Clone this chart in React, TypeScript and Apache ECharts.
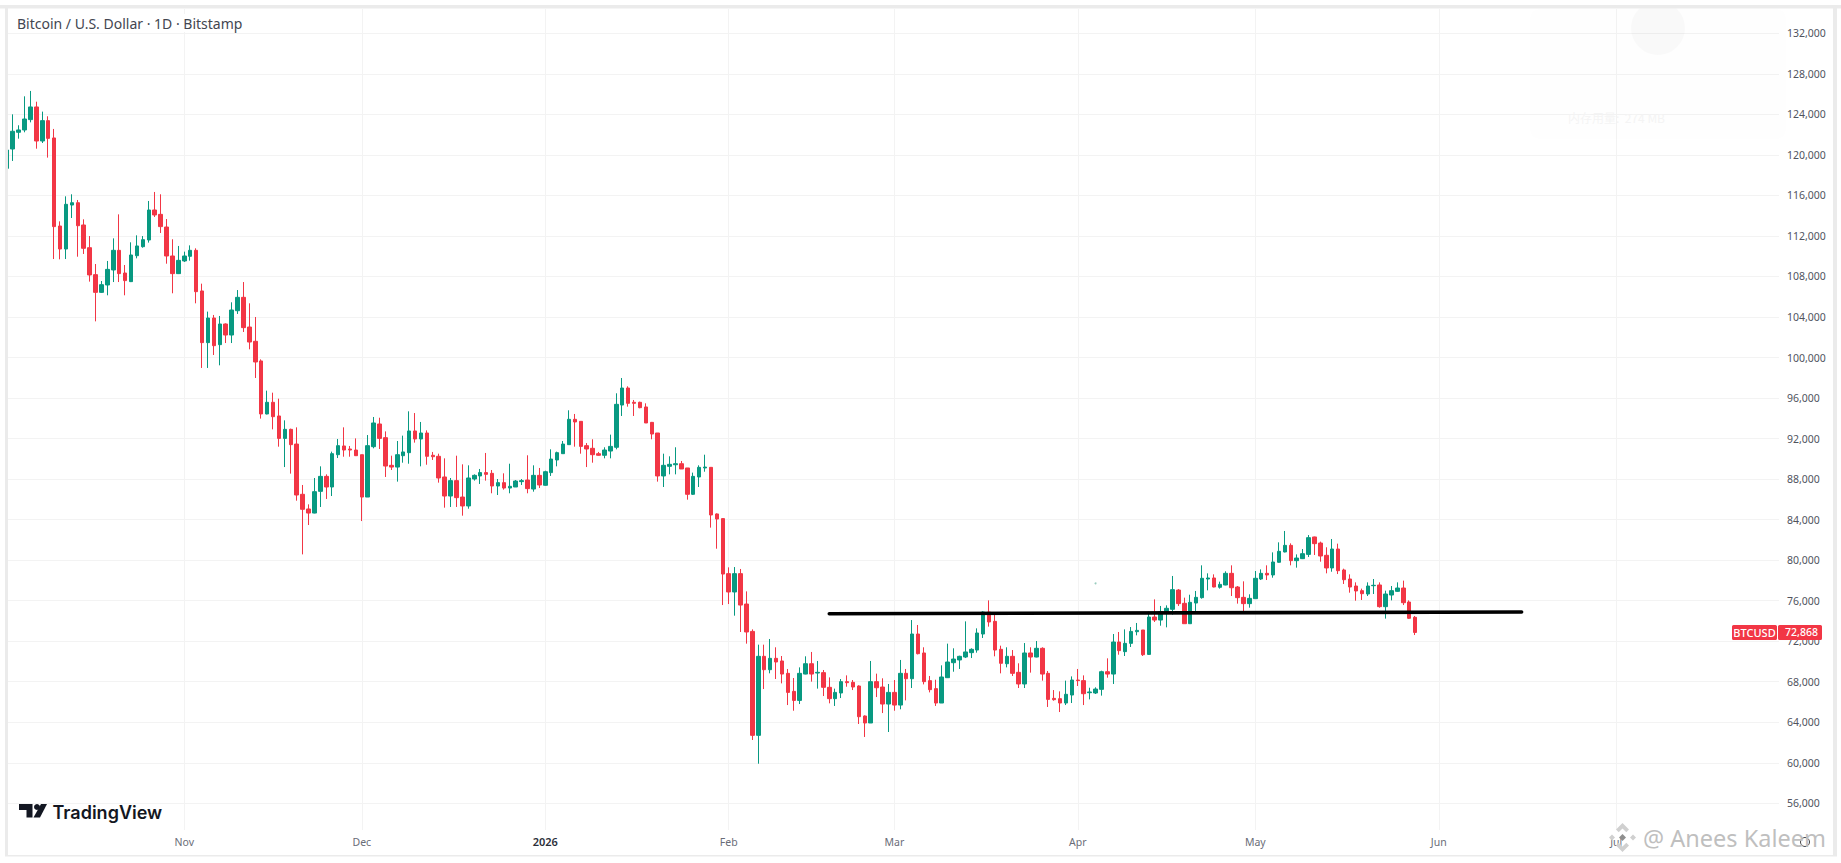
import React, { useEffect, useRef } from "react";
import * as echarts from "echarts";

// Rows are [open, high, low, close].
const octoberCandles = [
  [118670,120810,118610,120480],[120580,124000,119400,122330],[122230,122920,121600,122460],[122460,125780,122230,123540],
  [123480,126310,123210,124730],[124730,125250,120610,121370],[121370,124270,121170,123380],[123380,123810,119730,121630],
  [121670,122560,109720,112920],[112980,113440,109690,110710],[110710,115910,109720,115120],[115050,116110,113770,115280],
  [115280,115550,109950,113010],[113080,113640,110220,110780],[110840,111990,107490,108150],[108180,109230,103570,106430],
  [106430,107550,106370,107190],[107160,109530,106140,108700],[108640,111760,107450,110580],[110580,114130,107450,108280],
  [108340,109130,106140,107590],[107490,111370,107450,110120],[110050,112060,109790,111010],[110940,111990,110840,111630],
  [111600,115450,111340,114560],[114560,116340,113870,114070],[114130,116110,112290,112920],[112880,113670,109260,110020],
  [110020,111670,106340,108280],[108280,111010,108240,109590],
];
const novemberCandles = [
  [109530,110450,109430,110020],[109990,111070,109560,110580],[110580,110780,105350,106500],[106570,107290,98970,101470],
  [101470,104530,98970,103900],[103900,104200,100250,101170],[101270,104100,99230,103310],[103310,103370,101430,102220],
  [102220,105450,101430,104690],[104620,106660,104300,105940],[105940,107450,102520,102950],[103010,105350,100810,101530],
  [101600,104000,97980,99560],[99660,99820,93970,94430],[94430,96730,94390,95580],[95580,96530,92910,94160],
  [94230,95940,91200,92020],[92020,93800,89190,92910],[92910,92980,88540,91400],[91460,93110,85870,86430],
  [86500,87420,80570,85020],[85050,85510,83470,84650],[84650,88110,84620,86760],[86790,89260,85250,88270],
  [88270,88470,86040,87220],[87220,90710,86330,90510],[90410,91960,90080,91300],[91270,93110,90210,90870],
  [90970,91270,90210,90870],[90870,92020,90280,90310],
];
const decemberCandles = [
  [90410,90410,83860,86230],[86230,92350,86230,91300],[91200,94130,91040,93540],[93440,94060,90970,92020],
  [92090,92710,88210,89290],[89360,90310,88900,89190],[89190,91760,87750,90410],[90310,92290,89620,90680],
  [90610,94690,89520,92750],[92750,94520,91600,91960],[91960,93640,89260,92550],[92550,92810,89420,90250],
  [90350,90680,89890,90210],[90250,90510,87650,88110],[88210,90050,85180,86330],[86330,88110,85250,87850],
  [87850,90310,85250,86170],[86230,89460,84390,85350],[85350,89360,85080,88110],[88010,88470,87850,88370],
  [88310,89000,87520,88640],[88640,90580,87850,88470],[88570,88900,86600,87320],[87320,88010,86430,87650],
  [87650,88570,86960,87120],[87120,89520,86600,87290],[87220,87910,87220,87810],[87750,88010,87420,87850],
  [87910,90350,86600,87060],[87020,89360,86760,88370],[88370,89100,87120,87420],
];
const januaryCandles = [
  [87390,88830,87350,88730],[88640,90940,88310,89980],[89890,90710,89260,90610],[90510,91760,90510,91460],
  [91400,94790,91370,93900],[93900,94430,91200,93640],[93700,93700,90510,91230],[91300,91560,89190,90970],
  [91040,91930,89620,90410],[90510,90680,90310,90350],[90350,91140,90050,90870],[90770,92390,90050,91230],
  [91140,96470,90940,95380],[95310,97980,94230,96990],[96990,97160,95150,95480],[95580,95810,94230,95480],
  [95580,95640,94990,95050],[95120,95480,93540,93540],[93600,93640,91930,92450],[92550,92550,87750,88310],
  [88310,90510,87220,89360],[89260,90250,88470,89460],[89420,91140,88470,89520],[89520,89790,89000,89000],
  [89100,89100,85970,86500],[86500,88640,86430,88270],[88210,89360,87220,89160],[89100,90410,88730,89190],
  [89160,89160,83210,84460],[84560,84620,81130,84060],[84100,84130,75570,78630],
];
const februaryCandles = [
  [78670,79290,75670,76860],[76860,79320,74520,78670],[78670,79130,72910,75570],[75670,76920,71760,72910],
  [72970,73170,62250,62710],[62710,71660,59910,70510],[70510,71660,67280,69190],[69190,72220,68830,70310],
  [70310,71400,68270,69950],[70050,70540,67840,68760],[68830,69260,65700,66950],[67050,68370,65140,66160],
  [66160,69420,65800,68830],[68760,70510,68730,69780],[69780,70940,68010,68760],[68860,70050,67320,68930],
  [68900,69160,66590,67450],[67450,68430,65870,66330],[66330,67320,65610,66950],[66890,68270,66390,68010],
  [68010,68630,67510,67910],[67940,68170,67180,67480],[67580,67650,63830,64550],[64620,64680,62550,63930],
  [63930,70050,63930,68010],[68010,68800,66490,67410],[67480,68340,64910,65800],[65800,67780,63040,66950],
];
const marchCandles = [
  [66950,68170,65140,65700],[65700,70150,65280,68830],[68830,69260,66160,68300],[68300,74090,67380,72710],
  [72710,73600,70700,70770],[70840,71400,67740,68010],[68110,68570,66950,67220],[67320,68200,65610,65900],
  [65900,69620,65900,68470],[68400,71760,68370,69950],[69880,71300,68990,70240],[70150,70570,69260,70510],
  [70440,73960,70340,70940],[70870,71300,70340,71200],[71130,73270,70870,72810],[72710,74950,72320,74880],
  [74880,76030,73440,73900],[73960,74590,70510,71130],[71200,71560,68830,69820],[69780,71400,69420,70510],
  [70510,71130,68570,68830],[68930,69820,67380,67780],[67780,71820,67380,70840],[70840,71400,68900,70440],
  [70440,72020,70410,71300],[71300,71400,68110,68760],[68830,69060,65510,66260],[66360,67180,66130,66230],
  [66330,67050,65010,65900],[65900,68110,65700,66760],[66690,68530,65900,68170],
];
const aprilCandles = [
  [68170,69260,67580,68110],[68110,68630,65700,66820],[66920,67410,66260,66990],[66890,67450,66790,67280],
  [67250,69090,66630,68990],[68990,70310,68400,68760],[68760,72710,67780,71920],[71920,72910,70670,71070],
  [70970,73170,70540,71790],[71790,73400,71430,72970],[72940,73800,72580,73070],[73110,73110,70540,70670],
  [70700,74920,70640,74390],[74390,76130,73900,74090],[74090,75480,73530,74920],[74820,75540,73370,75250],
  [75150,78440,74620,77090],[77050,77150,75480,75710],[75740,76300,73730,73730],[73730,76590,73730,75840],
  [75770,76960,74920,76330],[76300,79490,76200,78210],[78140,78700,77020,78240],[78240,78600,77320,77350],
  [77320,77880,77190,77610],[77550,78900,77520,78700],[78700,79490,76460,77280],[77350,77450,75710,76300],
  [76330,77910,74980,75710],[75710,76630,75310,76230],
];
const mayCandles = [
  [76200,78930,76200,78210],[78140,79090,78040,78700],[78700,79490,78040,78540],[78540,80770,78270,79820],
  [79790,81760,79750,80870],[80810,82880,80770,81460],[81460,81660,79490,79950],[79950,80570,79260,80210],
  [80150,81100,80110,80640],[80570,82480,80310,82220],[82290,82320,80510,81630],[81690,81830,79850,80410],
  [80480,81270,78700,79230],[79230,82090,78860,81100],[81100,81630,78630,78960],[79030,79160,77650,78070],
  [78140,78600,76790,77350],[77450,77810,76000,76960],[76990,77190,76070,76690],[76660,77810,76460,77450],
  [77480,78140,76660,77520],[77550,77810,75310,75410],[75410,76990,74230,76660],[76560,77450,76030,76990],
  [76920,77810,76860,77250],[77250,77980,75570,75800],[75870,76030,74190,74260],[74360,74490,72610,72868],
];

const priceTicks = [56000,60000,64000,68000,72000,76000,80000,84000,88000,92000,96000,100000,104000,108000,112000,116000,120000,124000,128000,132000];
const monthLabels: Record<string, string> = {
  "2025-11-01": "Nov", "2025-12-01": "Dec", "2026-01-01": "2026", "2026-02-01": "Feb",
  "2026-03-01": "Mar", "2026-04-01": "Apr", "2026-05-01": "May", "2026-06-01": "Jun", "2026-07-01": "Jul",
};
const supportLine = [["2026-02-18", 74715], ["2026-06-15", 74880]];
const strayPoint = [["2026-04-04", 77715]];
const titleText = "Bitcoin / U.S. Dollar · 1D · Bitstamp";
const symbolName = "BTCUSD";

const candles = [
  ...octoberCandles, ...novemberCandles, ...decemberCandles, ...januaryCandles, ...februaryCandles,
  ...marchCandles, ...aprilCandles, ...mayCandles,
];
const dayCount = 300;
const days: string[] = [];
for (let i = 0; i < dayCount; i++) {
  days.push(new Date(Date.UTC(2025, 9, 2 + i)).toISOString().slice(0, 10));
}
const isMonthStart = (_: number, v: string) => v in monthLabels;
const UP = "#089981";
const DOWN = "#f23645";
const GRID = "#f3f3f3";
const FONT = "'Noto Sans', Roboto, sans-serif";

export default function App() {
  const ref = useRef<HTMLDivElement>(null);
  useEffect(() => {
    const chart = echarts.init(ref.current!, null, { renderer: "svg", width: 1841, height: 863 });
    chart.setOption({
      animation: false,
      backgroundColor: "#ffffff",
      title: {
        text: titleText, left: 16, top: 14, padding: [2, 2, 2, 1], backgroundColor: "#ffffff", z: 20,
        textStyle: { fontFamily: FONT, fontSize: 14, fontWeight: "normal", color: "#434651" },
      },
      grid: { left: 3.83, right: 62, top: 9, bottom: 33, containLabel: false },
      xAxis: {
        type: "category", data: days, boundaryGap: true,
        axisLine: { show: false },
        axisTick: { show: false, alignWithLabel: true, interval: isMonthStart },
        splitLine: { show: true, alignWithLabel: true, interval: isMonthStart, lineStyle: { color: GRID, width: 1 } },
        axisLabel: {
          interval: isMonthStart, margin: 6, fontFamily: FONT, fontSize: 10.5, color: "#6a6d78",
          formatter: (v: string) => (v === "2026-01-01" ? "{year|2026}" : monthLabels[v]),
          rich: { year: { fontFamily: FONT, fontSize: 11, fontWeight: 600, color: "#2a2e39" } },
        },
      },
      yAxis: {
        type: "value", position: "right", min: 53368, max: 134398, scale: true,
        axisLine: { show: false },
        axisTick: { show: false, customValues: priceTicks },
        splitLine: { show: true, lineStyle: { color: GRID, width: 1 } },
        axisLabel: {
          customValues: priceTicks, margin: 8, fontFamily: FONT, fontSize: 10.5, color: "#50535e",
          formatter: (v: number) => v.toLocaleString("en-US"),
        },
      },
      series: [
        {
          type: "candlestick", barWidth: 4, z: 3,
          data: candles.map(([o, h, l, c]) => [o, c, l, h]),
          itemStyle: { color: UP, color0: DOWN, borderColor: UP, borderColor0: DOWN, borderWidth: 1 },
          markLine: {
            silent: true, symbol: "none", animation: false, z: 6,
            label: { show: false },
            lineStyle: { color: "#000000", width: 3.6, type: "solid", cap: "round" },
            data: [[
              { xAxis: supportLine[0][0], yAxis: supportLine[0][1] },
              { xAxis: supportLine[1][0], yAxis: supportLine[1][1] },
            ]],
          },
        },
        {
          type: "scatter", symbolSize: 2, z: 3, data: strayPoint,
          itemStyle: { color: "#7fbfae" },
        },
      ],
    });

    const tagY = chart.convertToPixel({ yAxisIndex: 0 }, candles[candles.length - 1][3]) as number;
    const lastClose = candles[candles.length - 1][3].toLocaleString("en-US");
    const band = "#ebebeb";
    chart.setOption({
      graphic: [
        // faint ghost panel behind the axis (translucent so the grid shows through)
        { type: "rect", z: 5, shape: { x: 1530, y: 9, width: 256, height: 130, r: 8 }, style: { fill: "rgba(0,0,0,0.004)" }, silent: true },
        { type: "circle", z: 5, shape: { cx: 1658, cy: 28, r: 27 }, style: { fill: "rgba(0,0,0,0.018)" }, silent: true },
        { type: "text", z: 5, x: 1568, y: 117, silent: true, style: { text: "内存用量:  274 MB", fill: "#f4f4f4", font: "12px 'Noto Sans CJK SC'", verticalAlign: "middle" } },

        // page frame
        { type: "rect", z: 30, shape: { x: 0, y: 0, width: 5, height: 863 }, style: { fill: "#ffffff" }, silent: true },
        { type: "rect", z: 30, shape: { x: 5, y: 5, width: 3, height: 851 }, style: { fill: band }, silent: true },
        { type: "rect", z: 30, shape: { x: 0, y: 0, width: 1841, height: 5 }, style: { fill: "#ffffff" }, silent: true },
        { type: "rect", z: 30, shape: { x: 0, y: 5, width: 1841, height: 3.5 }, style: { fill: band }, silent: true },
        { type: "rect", z: 30, shape: { x: 1833, y: 5, width: 4, height: 851 }, style: { fill: band }, silent: true },
        { type: "rect", z: 30, shape: { x: 5, y: 855, width: 1832, height: 1.5 }, style: { fill: band }, silent: true },

        // TradingView logo
        { type: "polygon", z: 25, silent: true, shape: { points: [[19, 804], [32.5, 804], [32.5, 817.5], [26.5, 817.5], [26.5, 810], [19, 810]] }, style: { fill: "#131722" } },
        { type: "circle", z: 25, silent: true, shape: { cx: 37, cy: 807, r: 3 }, style: { fill: "#131722" } },
        { type: "polygon", z: 25, silent: true, shape: { points: [[41, 804], [47, 804], [40, 817.5], [33.5, 817.5]] }, style: { fill: "#131722" } },
        { type: "text", z: 25, x: 52.5, y: 812, silent: true, style: { text: "TradingView", fill: "#131722", font: "600 18px Inter, sans-serif", verticalAlign: "middle" } },

        // last-price tag
        { type: "rect", z: 26, silent: true, shape: { x: 1732, y: tagY - 7.5, width: 45, height: 15, r: 1.5 }, style: { fill: DOWN } },
        { type: "rect", z: 26, silent: true, shape: { x: 1778, y: tagY - 7.5, width: 44, height: 15, r: 1.5 }, style: { fill: DOWN } },
        { type: "text", z: 27, x: 1754.5, y: tagY, silent: true, style: { text: symbolName, fill: "#ffffff", font: `500 11px ${FONT}`, align: "center", verticalAlign: "middle" } },
        { type: "text", z: 27, x: 1785, y: tagY, silent: true, style: { text: lastClose, fill: "#ffffff", font: `500 10.5px ${FONT}`, verticalAlign: "middle" } },

        // settings icon
        { type: "circle", z: 25, silent: true, shape: { cx: 1805, cy: 842, r: 4.5 }, style: { fill: "none", stroke: "#444444", lineWidth: 1 } },

        // publisher watermark
        { type: "group", z: 28, silent: true, children: [
          { type: "polygon", z: 28, shape: { points: [[1622.5, 823], [1629, 829.5], [1626.3, 832.2], [1622.5, 828.4], [1618.7, 832.2], [1616, 829.5]] }, style: { fill: "#d0d0d0" } },
          { type: "polygon", z: 28, shape: { points: [[1622.5, 852], [1616, 845.5], [1618.7, 842.8], [1622.5, 846.6], [1626.3, 842.8], [1629, 845.5]] }, style: { fill: "#d0d0d0" } },
          { type: "polygon", z: 28, shape: { points: [[1622.5, 834], [1626, 837.5], [1622.5, 841], [1619, 837.5]] }, style: { fill: "#8f8f8f" } },
          { type: "polygon", z: 28, shape: { points: [[1612, 834.5], [1615, 837.5], [1612, 840.5], [1609, 837.5]] }, style: { fill: "#d0d0d0" } },
          { type: "polygon", z: 28, shape: { points: [[1633, 834.5], [1636, 837.5], [1633, 840.5], [1630, 837.5]] }, style: { fill: "#d0d0d0" } },
        ] },
        { type: "text", z: 28, x: 1643, y: 838, silent: true, style: { text: "@ Anees Kaleem", fill: "#bfbfbf", font: "23.5px 'Noto Sans', sans-serif", verticalAlign: "middle" } },
      ],
    });
    return () => chart.dispose();
  }, []);
  return <div ref={ref} style={{ position: "fixed", left: 0, top: 0, width: 1841, height: 863 }} />;
}
